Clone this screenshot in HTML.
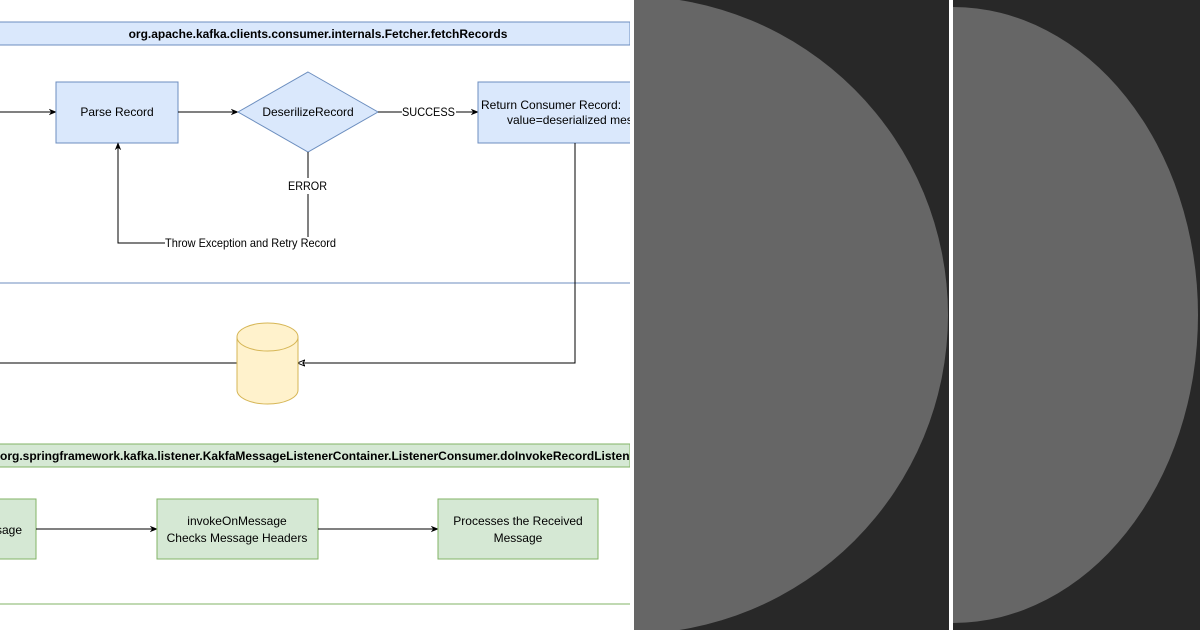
<!DOCTYPE html>
<html><head><meta charset="utf-8"><style>
html,body{margin:0;padding:0;width:1200px;height:630px;overflow:hidden;background:#fff}
svg{display:block}
text{font-family:"Liberation Sans",Arial,sans-serif;font-size:12px;fill:#000}
</style></head><body>
<svg width="1200" height="630" viewBox="0 0 1200 630" xmlns="http://www.w3.org/2000/svg">
<defs>
<marker id="a" viewBox="0 0 10 10" refX="9" refY="5" markerWidth="8" markerHeight="8" orient="auto"><path d="M0,1 L10,5 L0,9 L3,5 Z" fill="#000"/></marker>
<marker id="o" viewBox="0 0 10 10" refX="9" refY="5" markerWidth="8" markerHeight="8" orient="auto"><path d="M0,1 L10,5 L0,9 L3,5 Z" fill="#fff" stroke="#000" stroke-width="1.2"/></marker>
<clipPath id="c1"><rect x="634" y="0" width="315" height="630"/></clipPath>
<clipPath id="c2"><rect x="953" y="0" width="247" height="630"/></clipPath>
</defs>
<rect x="-1" y="22" width="631" height="23" fill="#dae8fc" stroke="#6c8ebf"/>
<text x="318" y="38" text-anchor="middle" font-weight="bold">org.apache.kafka.clients.consumer.internals.Fetcher.fetchRecords</text>
<line x1="0" y1="112" x2="56" y2="112" stroke="#000" marker-end="url(#a)"/>
<rect x="56" y="82" width="122" height="61" fill="#dae8fc" stroke="#6c8ebf"/>
<text x="117" y="116" text-anchor="middle">Parse Record</text>
<line x1="178" y1="112" x2="238" y2="112" stroke="#000" marker-end="url(#a)"/>
<polygon points="308,72 378,112 308,152 238,112" fill="#dae8fc" stroke="#6c8ebf"/>
<text x="308" y="116" text-anchor="middle">DeserilizeRecord</text>
<line x1="378" y1="112" x2="402" y2="112" stroke="#000"/>
<text x="402" y="116" font-size="11" textLength="53" lengthAdjust="spacingAndGlyphs">SUCCESS</text>
<line x1="456" y1="112" x2="478" y2="112" stroke="#000" marker-end="url(#a)"/>
<rect x="478" y="82" width="160" height="61" fill="#dae8fc" stroke="#6c8ebf"/>
<text x="481" y="109">Return Consumer Record:</text>
<text x="507" y="124">value=deserialized message</text>
<line x1="308" y1="152" x2="308" y2="178" stroke="#000"/>
<text x="288" y="190" font-size="11" textLength="39" lengthAdjust="spacingAndGlyphs">ERROR</text>
<polyline points="308,194 308,237" fill="none" stroke="#000"/>
<text x="165" y="247" font-size="11" textLength="171" lengthAdjust="spacingAndGlyphs">Throw Exception and Retry Record</text>
<polyline points="165,243 118,243 118,143" fill="none" stroke="#000" marker-end="url(#a)"/>
<line x1="0" y1="283" x2="630" y2="283" stroke="#6c8ebf"/>
<polyline points="575,143 575,363 298,363" fill="none" stroke="#000" marker-end="url(#o)"/>
<line x1="0" y1="363" x2="237" y2="363" stroke="#000"/>
<path d="M237,337 A30.5,14 0 0 1 298,337 L298,390 A30.5,14 0 0 1 237,390 Z" fill="#fff2cc" stroke="#d6b656"/>
<path d="M237,337 A30.5,14 0 0 0 298,337" fill="none" stroke="#d6b656"/>
<rect x="-1" y="444" width="631" height="23" fill="#d5e8d4" stroke="#82b366"/>
<text x="0" y="460" font-weight="bold">org.springframework.kafka.listener.KakfaMessageListenerContainer.ListenerConsumer.doInvokeRecordListener</text>
<rect x="-100" y="499" width="136" height="60" fill="#d5e8d4" stroke="#82b366"/>
<text x="22" y="534" text-anchor="end">sage</text>
<line x1="36" y1="529" x2="157" y2="529" stroke="#000" marker-end="url(#a)"/>
<rect x="157" y="499" width="161" height="60" fill="#d5e8d4" stroke="#82b366"/>
<text x="237" y="525" text-anchor="middle">invokeOnMessage</text>
<text x="237" y="542" text-anchor="middle">Checks Message Headers</text>
<line x1="318" y1="529" x2="438" y2="529" stroke="#000" marker-end="url(#a)"/>
<rect x="438" y="499" width="160" height="60" fill="#d5e8d4" stroke="#82b366"/>
<text x="518" y="525" text-anchor="middle">Processes the Received</text>
<text x="518" y="542" text-anchor="middle">Message</text>
<line x1="0" y1="604" x2="630" y2="604" stroke="#82b366"/>
<rect x="630" y="0" width="4" height="630" fill="#fff"/>
<rect x="634" y="0" width="315" height="630" fill="#282828"/>
<circle cx="629" cy="315" r="319" fill="#666" clip-path="url(#c1)"/>
<rect x="953" y="0" width="247" height="630" fill="#282828"/>
<ellipse cx="953" cy="315" rx="245" ry="308" fill="#666" clip-path="url(#c2)"/>
</svg>
</body></html>
